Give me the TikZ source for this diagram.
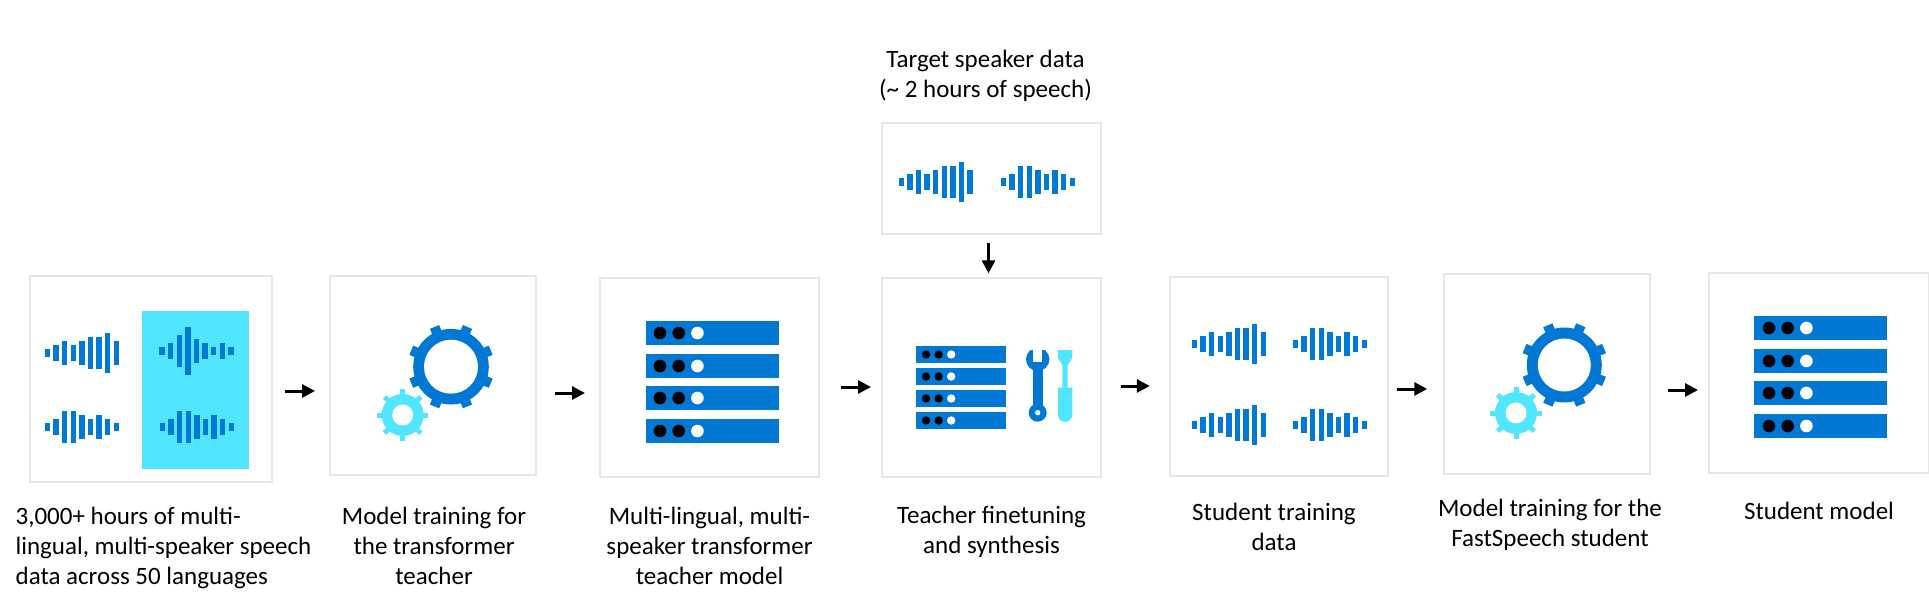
\documentclass[tikz,border=0pt]{standalone}
\usepackage{fontspec}
\setmainfont{Carlito}
\usetikzlibrary{arrows.meta}
\definecolor{iconblue}{HTML}{0078D4}
\definecolor{iconcyan}{HTML}{50E6FF}
\definecolor{panelgrey}{HTML}{E6E6E6}
\tikzset{%
  >={Triangle[width=13pt,length=13pt]},
  % Specifications for style of nodes:
       panel/.style = {rectangle, draw=panelgrey, line width=2pt},
     caption/.style = {align=center, inner sep=0pt,
                       font=\fontsize{25}{30}\selectfont},
}
% x of first bar, y of the middle, bar heights
\newcommand{\soundwave}[3]{%
  \foreach \h [count=\i from 0] in {#3}
    \fill[iconblue] (#1+\i*8.6-2.7, #2-\h*4) rectangle ++(5.4, \h*8);
}
% left, width, row height, row tops, first dot, dot radius, dot step
\newcommand{\serverrack}[7]{%
  \foreach \t in {#4} {
    \fill[iconblue] (#1, \t) rectangle ++(#2, #3);
    \fill[black] (#1+#5, \t+#3/2) circle (#6);
    \fill[black] (#1+#5+#7, \t+#3/2) circle (#6);
    \fill[white] (#1+#5+2*#7, \t+#3/2) circle (#6);
  }
}
% x, y, ring radius, hole radius, tooth end, tooth width, first angle, colour
\newcommand{\cogwheel}[8]{%
  \fill[#8] (#1, #2) circle (#3);
  \foreach \a in {0, 45, ..., 315}
    \fill[#8, shift={(#1, #2)}, rotate=\a+#7] (#3-3, -#6/2) rectangle (#5, #6/2);
  \fill[white] (#1, #2) circle (#4);
}

\begin{document}
\begin{tikzpicture}[x=1pt, y=-1pt, node distance=100pt]
  \useasboundingbox (0,0) rectangle (1929,609);

  \node(dataBox)     [panel, minimum width=242pt, minimum height=206pt] at (151,379) {};
  \node(teacherBox)  [panel, minimum width=206pt, minimum height=199pt, right of=dataBox, xshift=182pt, yshift=3.5pt] {};
  \node(modelBox)    [panel, minimum width=219pt, minimum height=199pt, right of=teacherBox, xshift=176.5pt, yshift=-2pt] {};
  \node(tuneBox)     [panel, minimum width=219pt, minimum height=199pt, right of=modelBox, xshift=182pt] {};
  \node(targetBox)   [panel, minimum width=219pt, minimum height=111pt, above of=tuneBox, yshift=99pt] {};
  \node(studentBox)  [panel, minimum width=218.5pt, minimum height=199pt, right of=tuneBox, xshift=187.5pt, yshift=1pt] {};
  \node(fastBox)     [panel, minimum width=206.5pt, minimum height=200pt, right of=studentBox, xshift=168pt, yshift=2.5pt] {};
  \node(finalBox)    [panel, minimum width=220pt, minimum height=200pt, right of=fastBox, xshift=172pt, yshift=1pt] {};

  \node(dataText)    [caption, align=left, below of=dataBox, xshift=12.5pt, yshift=-69pt] {3,000+ hours of multi-\\lingual, multi-speaker speech\\data across 50 languages};
  \node(teacherText) [caption, below of=teacherBox, xshift=1pt, yshift=-70.5pt] {Model training for\\the transformer\\teacher};
  \node(modelText)   [caption, below of=modelBox, yshift=-68.5pt] {Multi-lingual, multi-\\speaker transformer\\teacher model};
  \node(tuneText)    [caption, below of=tuneBox, yshift=-54.5pt] {Teacher finetuning\\and synthesis};
  \node(targetText)  [caption, above of=targetBox, xshift=-6pt, yshift=3pt] {Target speaker data\\(\textasciitilde{} 2 hours of speech)};
  \node(studentText) [caption, below of=studentBox, xshift=-5pt, yshift=-50.5pt] {Student training\\data};
  \node(fastText)    [caption, below of=fastBox, xshift=3pt, yshift=-51pt] {Model training for the\\FastSpeech student};
  \node(finalText)   [caption, below of=finalBox, yshift=-37.7pt] {Student model};

  % icons inside the panels
  \fill[iconcyan] (142,311) rectangle (249,469);
  \soundwave{47.5}{353}{1,2,3,2,3,4,4,5,3}
  \soundwave{47.5}{427}{1,2,4,4,3,2,3,2,1}
  \soundwave{162}{351}{1,2,4,6,3,2,1,2,1}
  \soundwave{162.5}{427}{1,2,4,4,3,2,3,2,1}

  \cogwheel{451}{366.7}{37.8}{27}{43}{10}{22.5}{iconblue}
  \cogwheel{402.7}{415}{21}{10.5}{25.7}{5}{0}{iconcyan}

  \serverrack{646}{133}{24}{321,354,386,419}{14}{6.3}{18.7}

  \soundwave{901.3}{182}{1,2,3,2,3,4,4,5,3}
  \soundwave{1003.5}{182}{1,2,4,4,3,2,3,2,1}

  \serverrack{916}{90}{17}{346,368,390,412}{10}{4.2}{12.6}

  % wrench
  \begin{scope}
    \clip (1020,350) rectangle (1055,430);
    \fill[iconblue] (1037.7,359.3) circle (11.7);
  \end{scope}
  \fill[iconblue] (1032.7,365) rectangle (1042.7,407);
  \fill[white] (1033,348) rectangle (1042,361.7);
  \fill[iconblue] (1037.7,412.7) circle (9);
  \fill[white] (1037.7,412.7) circle (2.7);
  % screwdriver
  \fill[iconcyan] (1058,350) -- (1072.3,350) -- (1072.3,358) -- (1067.7,365) -- (1067.7,387.7)
    -- (1072.3,387.7) -- (1072.3,414.7) arc[start angle=0, end angle=180, radius=7.15]
    -- (1058,387.7) -- (1062.3,387.7) -- (1062.3,365) -- (1058,358) -- cycle;

  \soundwave{1194.4}{344}{1,2,3,2,3,4,4,5,3}
  \soundwave{1295.5}{344}{1,2,4,4,3,2,3,2,1}
  \soundwave{1194.4}{425}{1,2,3,2,3,4,4,5,3}
  \soundwave{1295.5}{425}{1,2,4,4,3,2,3,2,1}

  \cogwheel{1564.3}{365}{37.5}{26.5}{43}{10}{22.5}{iconblue}
  \cogwheel{1516}{413}{21}{10.5}{25.7}{5}{0}{iconcyan}

  \serverrack{1754}{133}{24}{316,349,381,414}{15}{6.3}{18.7}

  % Specification of arrows between the panels
  \draw[->, line width=3pt, shorten <=12pt, shorten >=14pt]   (dataBox.east |- 0,391) -- (teacherBox.west |- 0,391);
  \draw[->, line width=3pt, shorten <=18pt, shorten >=14pt]   (teacherBox.east |- 0,393) -- (modelBox.west |- 0,393);
  \draw[->, line width=3pt, shorten <=21pt, shorten >=10pt]   (modelBox.east |- 0,387) -- (tuneBox.west |- 0,387);
  \draw[->, line width=3pt, shorten <=19pt, shorten >=19pt]   (tuneBox.east |- 0,386) -- (studentBox.west |- 0,386);
  \draw[->, line width=3pt, shorten <=8pt, shorten >=15.5pt]  (studentBox.east |- 0,389) -- (fastBox.west |- 0,389);
  \draw[->, line width=3pt, shorten <=17pt, shorten >=10pt]   (fastBox.east |- 0,390) -- (finalBox.west |- 0,390);
  \draw[->, line width=3pt, shorten <=8pt, shorten >=3.7pt]   (targetBox.south -| 988.5,0) -- (tuneBox.north -| 988.5,0);
\end{tikzpicture}
\end{document}
